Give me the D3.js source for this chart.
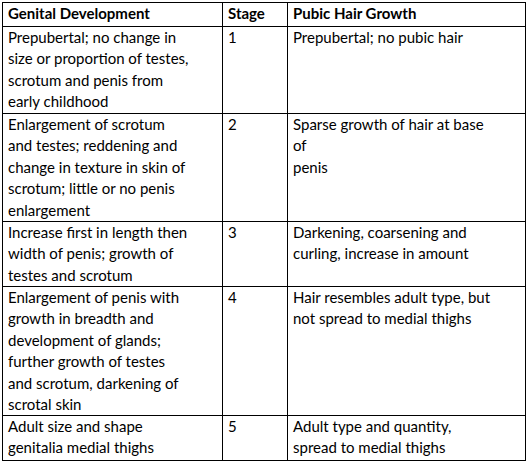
<!DOCTYPE html>
<html><head><meta charset="utf-8">
<script src="https://cdn.jsdelivr.net/npm/d3@7"></script>
<style>body{margin:0;background:#fff}</style>
</head><body>
<svg id="chart"></svg>
<script>
const headers = ["Genital Development", "Stage", "Pubic Hair Growth"];
const genital = [
  ["Prepubertal; no change in", "size or proportion of testes,", "scrotum and penis from", "early childhood"],
  ["Enlargement of scrotum", "and testes; reddening and", "change in texture in skin of", "scrotum; little or no penis", "enlargement"],
  ["Increase first in length then", "width of penis; growth of", "testes and scrotum"],
  ["Enlargement of penis with", "growth in breadth and", "development of glands;", "further growth of testes", "and scrotum, darkening of", "scrotal skin"],
  ["Adult size and shape", "genitalia medial thighs"]
];
const stages = ["1", "2", "3", "4", "5"];
const pubic = [
  ["Prepubertal; no pubic hair"],
  ["Sparse growth of hair at base", "of", "penis"],
  ["Darkening, coarsening and", "curling, increase in amount"],
  ["Hair resembles adult type, but", "not spread to medial thighs"],
  ["Adult type and quantity,", "spread to medial thighs"]
];
// row / column boundaries
const rowEdges = [2, 26, 113, 221, 286, 415, 460];
const colEdges = [2, 222, 287, 525];

const width = 528, height = 463, lineH = 21.4;
const svg = d3.select("#chart").attr("width", width).attr("height", height);
const g = svg.append("g");

// grid lines
g.selectAll("line.h").data(rowEdges).join("line")
  .attr("x1", colEdges[0]).attr("x2", colEdges[3] + 1)
  .attr("y1", d => d + 0.5).attr("y2", d => d + 0.5)
  .attr("stroke", "#000").attr("stroke-width", 1);
g.selectAll("line.v").data(colEdges).join("line")
  .attr("y1", rowEdges[0]).attr("y2", rowEdges[rowEdges.length - 1] + 1)
  .attr("x1", d => d + 0.5).attr("x2", d => d + 0.5)
  .attr("stroke", "#000").attr("stroke-width", 1);

const font = "Lato, 'Liberation Sans', sans-serif";
function cell(lines, col, row, bold) {
  const t = g.append("text")
    .attr("x", colEdges[col] + 6)
    .attr("y", rowEdges[row] + 17)
    .attr("font-family", font).attr("font-size", 15)
    .attr("font-weight", bold ? "bold" : "normal")
    .attr("fill", "#000");
  t.selectAll("tspan").data(lines).join("tspan")
    .attr("x", colEdges[col] + 6)
    .attr("dy", (d, i) => i ? lineH : 0)
    .text(d => d);
}

headers.forEach((h, i) => cell([h], i, 0, true));
stages.forEach((s, i) => {
  cell(genital[i], 0, i + 1);
  cell([s], 1, i + 1);
  cell(pubic[i], 2, i + 1);
});
</script>
</body></html>
